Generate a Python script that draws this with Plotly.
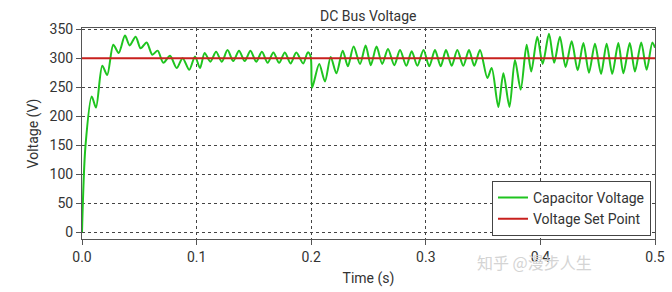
import plotly.graph_objects as go

# Capacitor voltage: peaks/troughs (time in s, voltage in V)
t_cap = [0.0, 0.003, 0.0085, 0.0122, 0.0177, 0.022, 0.0273, 0.032, 0.0375, 0.0416,
         0.0468, 0.0512, 0.0564, 0.0614, 0.066, 0.071, 0.0768, 0.0826, 0.0878, 0.0936,
         0.0986, 0.103, 0.107, 0.112, 0.117, 0.122, 0.127, 0.132, 0.137, 0.142,
         0.147, 0.152, 0.157, 0.162, 0.167, 0.172, 0.177, 0.182, 0.187, 0.193,
         0.197, 0.1995, 0.2008, 0.207, 0.212, 0.217, 0.222, 0.2275, 0.232, 0.237,
         0.2426, 0.2475, 0.252, 0.257, 0.262, 0.267, 0.2725, 0.2775, 0.283, 0.2877,
         0.2926, 0.298, 0.303, 0.308, 0.313, 0.3176, 0.3226, 0.3275, 0.3327, 0.3377,
         0.3423, 0.3473, 0.3537, 0.3575, 0.3633, 0.3677, 0.373, 0.3778, 0.3828, 0.388,
         0.392, 0.3973, 0.402, 0.4075, 0.412, 0.417, 0.422, 0.4273, 0.4325, 0.4375,
         0.4424, 0.4476, 0.4529, 0.4578, 0.4627, 0.468, 0.4724, 0.478, 0.4825, 0.488,
         0.4927, 0.4977, 0.5]
v_cap = [0, 148, 234, 215, 287, 271, 323, 309, 339, 322,
         337, 317, 327, 306, 313, 292, 304, 283, 300, 280,
         303, 283, 309, 294, 311, 294, 314, 295, 313, 295,
         313, 294, 311, 292, 310, 292, 310, 291, 310, 291,
         310, 303, 249, 290, 260, 302, 274, 313, 286, 320,
         290, 322, 288, 320, 290, 316, 288, 314, 287, 312,
         287, 314, 286, 314, 286, 314, 287, 314, 287, 314,
         287, 314, 266, 283, 216, 274, 216, 297, 246, 323,
         277, 337, 290, 342, 292, 337, 285, 329, 279, 326,
         275, 325, 273, 325, 273, 326, 274, 326, 277, 327,
         280, 327, 318]
assert len(t_cap) == len(v_cap)

# Voltage set point
t_set = [0.0, 0.5]
v_set = [300, 300]

x_ticks = [0.0, 0.1, 0.2, 0.3, 0.4, 0.5]
x_ticktext = ["0.0", "0.1", "0.2", "0.3", "0.4", "0.5"]
y_ticks = [0, 50, 100, 150, 200, 250, 300, 350]

FONT = "Roboto"
TXT = "#333333"

fig = go.Figure()
fig.add_trace(go.Scatter(x=t_cap, y=v_cap, mode="lines", name="Capacitor Voltage",
                         line=dict(color="#1fc41f", width=2, shape="spline", smoothing=0.8)))
fig.add_trace(go.Scatter(x=t_set, y=v_set, mode="lines", name="Voltage Set Point",
                         line=dict(color="#c8201e", width=2)))

fig.update_layout(
    width=672, height=292,
    margin=dict(l=82, r=17, t=28, b=53),
    paper_bgcolor="white", plot_bgcolor="white",
    font=dict(family=FONT, size=14, color=TXT),
    title=dict(text="DC Bus Voltage", x=0.548, xanchor="center", y=0.945, yanchor="middle",
               font=dict(family=FONT, size=14, color=TXT)),
    showlegend=True,
    legend=dict(x=0.993, xanchor="right", y=0.015, yanchor="bottom",
                bgcolor="white", bordercolor="#444444", borderwidth=1,
                font=dict(family=FONT, size=14, color=TXT),
                tracegroupgap=0, itemwidth=30),
    annotations=[dict(text="知乎 @漫步人生", x=0.79, y=-0.11, xref="paper", yref="paper",
                      xanchor="center", yanchor="middle", showarrow=False,
                      font=dict(family="Noto Sans CJK SC", size=16, color="#d4d4d4"))],
)
fig.update_xaxes(range=[0, 0.5], tickvals=x_ticks, ticktext=x_ticktext,
                 showgrid=True, gridcolor="#444444", griddash="dot", gridwidth=1,
                 showline=True, linecolor="#555555", linewidth=1, mirror=True,
                 ticks="outside", ticklen=5, tickcolor="#555555",
                 zeroline=False, automargin=False,
                 title=dict(text="Time (s)", standoff=9, font=dict(family=FONT, size=14, color=TXT)))
fig.update_yaxes(range=[-11.5, 352], tickvals=y_ticks,
                 showgrid=True, gridcolor="#444444", griddash="dot", gridwidth=1,
                 showline=True, linecolor="#555555", linewidth=1, mirror=True,
                 ticks="outside", ticklen=5, tickcolor="#555555",
                 zeroline=False, automargin=False,
                 title=dict(text="Voltage (V)", standoff=7, font=dict(family=FONT, size=14, color=TXT)))

fig.write_html("out.html")
